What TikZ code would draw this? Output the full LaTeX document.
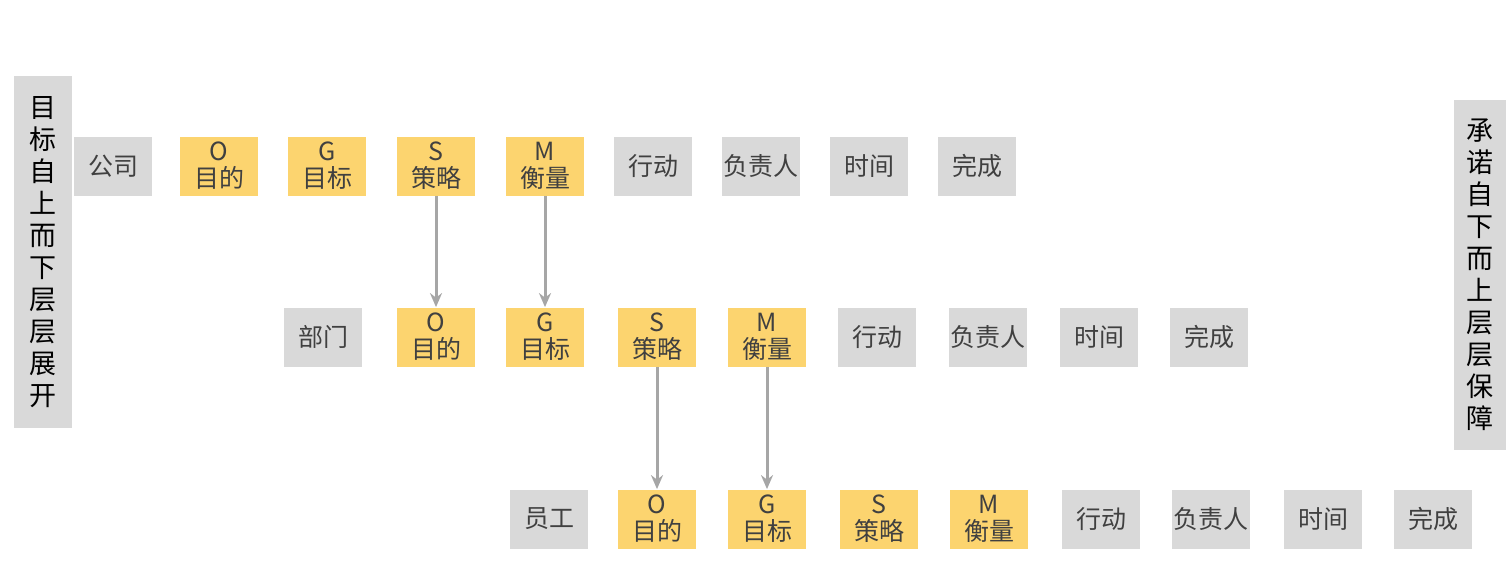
\documentclass[tikz,border=0pt]{standalone}
\usepackage{fontspec}
\setmainfont{Noto Sans CJK SC}
\usetikzlibrary{arrows.meta}
\definecolor{boxgray}{HTML}{D9D9D9}
\definecolor{boxgold}{HTML}{FCD46F}
\definecolor{txt}{HTML}{404040}
\definecolor{arr}{HTML}{A6A6A6}
\tikzset{
  cell/.style={fill=boxgray, text=txt, minimum width=39pt, minimum height=29.5pt, inner sep=0pt, align=center, font=\fontsize{12.5}{13}\selectfont},
  okr/.style={cell, fill=boxgold, font=\fontsize{12.5}{13.5}\selectfont},
  side/.style={fill=boxgray, text=black, inner sep=0pt, align=center, font=\fontsize{13.5}{16}\selectfont},
  link/.style={draw=arr, line width=1.5pt, -{Stealth[length=7pt,width=6pt]}}
}
\begin{document}
\begin{tikzpicture}[x=0.5pt,y=-0.5pt]
  \useasboundingbox (0,0) rectangle (1506,586);
  % side labels
  \node[side, minimum width=29pt, minimum height=176pt] (down) at (43,252) {目\\标\\自\\上\\而\\下\\层\\层\\展\\开};
  \node[side, minimum width=26pt, minimum height=175pt] (up) at (1480,275) {承\\诺\\自\\下\\而\\上\\层\\层\\保\\障};
  % company row
  \node[cell] (c0) at (113,166) {公司};
  \foreach \n/\x/\t in {1/219/O\\目的, 2/327/G\\目标, 3/436/S\\策略, 4/545/M\\衡量}
    \node[okr] (c\n) at (\x,166) {\t};
  \foreach \n/\x/\t in {5/653/行动, 6/761/负责人, 7/869/时间, 8/977/完成}
    \node[cell] (c\n) at (\x,166) {\t};
  % department row
  \node[cell] (d0) at (323,337) {部门};
  \foreach \n/\x/\t in {1/436/O\\目的, 2/545/G\\目标, 3/657/S\\策略, 4/767/M\\衡量}
    \node[okr] (d\n) at (\x,337) {\t};
  \foreach \n/\x/\t in {5/877/行动, 6/988/负责人, 7/1099/时间, 8/1209/完成}
    \node[cell] (d\n) at (\x,337) {\t};
  % employee row
  \node[cell] (e0) at (549,519) {员工};
  \foreach \n/\x/\t in {1/657/O\\目的, 2/767/G\\目标, 3/879/S\\策略, 4/989/M\\衡量}
    \node[okr] (e\n) at (\x,519) {\t};
  \foreach \n/\x/\t in {5/1101/行动, 6/1211/负责人, 7/1323/时间, 8/1433/完成}
    \node[cell] (e\n) at (\x,519) {\t};
  % cascade
  \draw[link] (c3) -- (d1);
  \draw[link] (c4) -- (d2);
  \draw[link] (d3) -- (e1);
  \draw[link] (d4) -- (e2);
\end{tikzpicture}
\end{document}
